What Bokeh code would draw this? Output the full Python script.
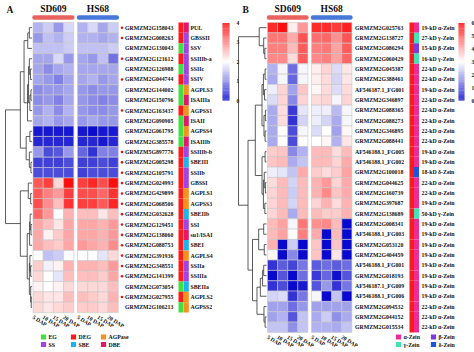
import numpy as np
from bokeh.plotting import figure
from bokeh.models import Range1d, ColumnDataSource, LinearColorMapper
from bokeh.transform import transform
from bokeh.core.properties import value
from bokeh.embed import file_html
from bokeh.resources import INLINE

# ---------------- data ----------------
groups = ["SD609", "HS68"]
stages = ["5 DAP", "10 DAP", "15 DAP", "20 DAP"]

genes_a = ["GRMZM2G158043", "GRMZM2G008263", "GRMZM2G130043", "GRMZM2G121612", "GRMZM2G126988",
           "GRMZM2G044744", "GRMZM2G144002", "GRMZM2G150796", "GRMZM2G163437", "GRMZM2G090905",
           "GRMZM2G061795", "GRMZM2G385578", "GRMZM5G897776", "GRMZM2G005298", "GRMZM2G105791",
           "GRMZM2G024993", "GRMZM2G429899", "GRMZM2G068506", "GRMZM2G032628", "GRMZM2G129451",
           "GRMZM2G138060", "GRMZM2G088753", "GRMZM2G391936", "GRMZM2G348551", "GRMZM2G141399",
           "GRMZM2G073054", "GRMZM2G027955", "GRMZM2G106213"]
names_a = ["PUL", "GBSSII", "SSV", "SSIIIb-a", "SSIIc", "SSIV", "AGPLS3", "ISAIIIa", "AGPSS1", "ISAII",
           "AGPSS4", "ISAIIIb", "SSIIIb-b", "SBEIII", "SSIIb", "GBSSI", "AGPLS1", "AGPSS3", "SBEIIb", "SSI",
           "su1/ISAI", "SBEI", "AGPLS4", "SSIIa", "SSIIIa", "SBEIIa", "AGPLS2", "AGPSS2"]
type_a = ["DEG", "DEG", "EG", "DEG", "EG", "DEG", "EG", "EG", "DEG", "EG",
          "EG", "EG", "DEG", "DEG", "DEG", "DEG", "DEG", "DEG", "DEG", "DEG",
          "DEG", "DEG", "DEG", "DEG", "DEG", "EG", "DEG", "EG"]
class_a = ["DBE", "SS", "SS", "SS", "SS", "SS", "AGPase", "DBE", "AGPase", "DBE",
           "AGPase", "DBE", "SS", "SBE", "SS", "SS", "AGPase", "AGPase", "SBE", "SS",
           "DBE", "SBE", "AGPase", "SS", "SS", "SBE", "AGPase", "AGPase"]
vals_a = [
    [1.4, 1.6, 1.2, 1.7, 1.4, 1.7, 1.3, 1.6],
    [1.2, 1.5, 1.4, 1.6, 1.4, 1.4, 1.3, 1.4],
    [1.5, 1.5, 1.5, 1.6, 1.5, 1.5, 1.5, 1.6],
    [1.3, 1.3, 1.7, 1.2, 1.3, 1.2, 1.5, 0.9],
    [1.3, 1.1, 1.3, 1.4, 1.3, 1.3, 1.3, 1.3],
    [1.3, 1.2, 1.0, 1.3, 1.3, 1.4, 1.2, 1.3],
    [1.1, 1.2, 1.2, 1.3, 1.2, 1.1, 1.2, 1.2],
    [1.1, 1.2, 1.0, 1.3, 1.2, 1.1, 1.0, 1.1],
    [1.2, 1.4, 1.1, 1.4, 1.2, 1.1, 1.1, 1.2],
    [1.3, 1.4, 1.2, 1.3, 1.2, 1.3, 1.2, 1.2],
    [0.2, 0.2, 0.2, 0.2, 0.2, 0.1, 0.2, 0.2],
    [0.3, 0.3, 0.3, 0.3, 0.3, 0.3, 0.2, 0.3],
    [1.2, 0.6, 0.7, 1.2, 0.8, 0.4, 1.0, 1.0],
    [0.5, 0.5, 0.5, 0.6, 0.5, 0.5, 0.6, 0.5],
    [0.6, 0.6, 0.6, 0.6, 0.5, 0.6, 0.6, 0.6],
    [3.3, 3.5, 2.3, 3.9, 3.5, 3.7, 3.4, 3.9],
    [3.3, 3.0, 2.8, 3.5, 3.4, 3.4, 3.2, 3.6],
    [3.4, 2.9, 2.5, 3.6, 3.5, 3.5, 3.3, 3.7],
    [3.2, 2.8, 2.0, 2.6, 2.5, 2.5, 2.2, 2.5],
    [2.7, 2.5, 2.2, 2.7, 2.7, 2.7, 2.6, 2.8],
    [2.7, 2.1, 2.4, 2.7, 2.7, 2.7, 2.6, 2.8],
    [2.7, 2.5, 2.4, 2.7, 2.8, 2.7, 2.6, 2.9],
    [2.0, 1.5, 1.6, 2.0, 2.0, 2.0, 1.8, 2.3],
    [2.4, 1.9, 2.1, 2.6, 2.6, 2.6, 2.5, 2.8],
    [2.3, 2.0, 1.8, 2.5, 2.5, 2.5, 2.4, 2.7],
    [2.1, 2.0, 2.1, 2.3, 2.3, 2.3, 2.3, 2.5],
    [2.3, 2.2, 2.2, 2.5, 2.5, 2.4, 2.3, 2.6],
    [2.3, 2.2, 2.3, 2.4, 2.4, 2.4, 2.3, 2.5],
]
# nested clustering tree: [left, right, height]
tree_a = [
    [[[[0, 1, 0.10], 2, 0.16],
      [[[3, [4, 5, 0.06], 0.10], [[6, 7, 0.04], 8, 0.08], 0.13], 9, 0.17], 0.30],
     [[10, 11, 0.08], [12, [13, 14, 0.04], 0.10], 0.22], 0.44],
    [[15, [16, 17, 0.05], 0.14],
     [[[18, [19, 20, 0.04], 0.07], 21, 0.09],
      [[22, [23, 24, 0.05], 0.08], [25, [26, 27, 0.03], 0.05], 0.10], 0.18], 0.44],
    1.0]

genes_b = ["GRMZM2G025763", "GRMZM2G138727", "GRMZM2G086294", "GRMZM2G060429", "GRMZM2G045387",
           "GRMZM2G388461", "AF546187.1_FG001", "GRMZM2G346897", "GRMZM2G088365", "GRMZM2G088273",
           "GRMZM2G346895", "GRMZM2G088441", "AF546188.1_FG005", "AF546188.1_FG002", "GRMZM2G100018",
           "GRMZM2G044625", "GRMZM2G160739", "GRMZM2G397687", "GRMZM2G138689", "GRMZM2G008341",
           "AF546188.1_FG003", "GRMZM2G053120", "GRMZM2G404459", "AF546188.1_FG001", "GRMZM2G018193",
           "AF546187.1_FG009", "AF546188.1_FG006", "GRMZM2G094532", "GRMZM2G044152", "GRMZM2G015534"]
names_b = ["19-kD α-Zein", "27-kD γ-Zein", "15-kD β-Zein", "16-kD γ-Zein", "22-kD α-Zein",
           "22-kD α-Zein", "19-kD α-Zein", "22-kD α-Zein", "22-kD α-Zein", "22-kD α-Zein",
           "22-kD α-Zein", "22-kD α-Zein", "19-kD α-Zein", "19-kD α-Zein", "18-kD δ-Zein",
           "22-kD α-Zein", "22-kD α-Zein", "19-kD α-Zein", "50-kD γ-Zein", "19-kD α-Zein",
           "19-kD α-Zein", "19-kD α-Zein", "19-kD α-Zein", "19-kD α-Zein", "19-kD α-Zein",
           "19-kD α-Zein", "19-kD α-Zein", "22-kD α-Zein", "22-kD α-Zein", "22-kD α-Zein"]
class_b = ["α-Zein", "γ-Zein", "β-Zein", "γ-Zein", "α-Zein", "α-Zein", "α-Zein", "α-Zein", "α-Zein", "α-Zein",
           "α-Zein", "α-Zein", "α-Zein", "α-Zein", "δ-Zein", "α-Zein", "α-Zein", "α-Zein", "γ-Zein", "α-Zein",
           "α-Zein", "α-Zein", "α-Zein", "α-Zein", "α-Zein", "α-Zein", "α-Zein", "α-Zein", "α-Zein", "α-Zein"]
type_b = ["DEG"] * 30
vals_b = [
    [5.5, 5.8, 3.2, 4.2, 5.5, 5.5, 5.3, 5.6],
    [4.6, 4.6, 4.0, 5.0, 4.7, 4.8, 4.3, 5.0],
    [4.5, 4.5, 3.8, 4.9, 4.5, 4.6, 4.1, 4.9],
    [4.4, 4.4, 3.4, 4.9, 4.4, 4.5, 4.1, 4.8],
    [2.1, 2.9, 1.3, 2.9, 3.2, 3.5, 2.6, 3.3],
    [2.0, 2.9, 1.2, 2.9, 3.2, 3.4, 2.5, 3.3],
    [2.8, 3.5, 1.9, 3.7, 3.1, 3.4, 2.6, 3.4],
    [2.6, 3.5, 1.6, 3.5, 3.4, 3.5, 2.9, 3.5],
    [2.0, 3.4, 0.7, 2.7, 2.8, 2.8, 2.2, 2.9],
    [2.0, 3.4, 0.6, 2.5, 2.8, 2.5, 2.0, 2.9],
    [2.0, 3.0, 0.9, 2.9, 2.6, 3.0, 1.9, 3.1],
    [2.0, 3.0, 0.9, 3.0, 3.0, 3.1, 2.1, 3.3],
    [3.6, 3.7, 1.6, 2.1, 3.8, 3.8, 3.4, 3.8],
    [3.7, 3.8, 2.0, 2.3, 3.8, 3.8, 3.5, 4.0],
    [2.8, 2.7, 2.3, 4.0, 3.6, 3.4, 3.6, 4.1],
    [3.4, 3.8, 2.5, 3.8, 3.9, 4.2, 3.5, 4.0],
    [3.5, 3.8, 2.4, 3.8, 3.9, 4.4, 3.7, 4.0],
    [3.5, 3.8, 2.5, 3.8, 3.5, 3.9, 3.4, 3.9],
    [3.5, 3.8, 2.0, 3.8, 3.8, 3.6, 3.6, 3.9],
    [3.8, 4.1, 2.9, 4.6, 4.3, 4.4, 3.8, 0.1],
    [3.8, 4.1, 3.0, 4.5, 4.0, 0.1, 3.8, 0.1],
    [3.9, 0.1, 2.4, 0.1, 3.7, 0.1, 3.7, 0.1],
    [3.1, 0.1, 1.6, 0.1, 3.7, 0.1, 3.3, 0.1],
    [0.6, 1.1, 0.8, 1.4, 1.1, 1.3, 1.1, 1.3],
    [0.1, 1.0, 0.1, 1.3, 0.7, 1.2, 0.2, 1.0],
    [0.6, 0.9, 0.1, 0.3, 1.0, 1.8, 0.6, 1.4],
    [2.5, 2.6, 0.6, 1.4, 2.9, 0.1, 2.3, 0.1],
    [1.9, 1.9, 1.3, 1.8, 1.9, 1.9, 1.9, 1.9],
    [1.9, 2.1, 1.0, 2.3, 2.0, 2.4, 1.7, 2.0],
    [2.3, 2.3, 1.7, 2.3, 2.1, 2.1, 2.0, 2.3],
]
tree_b = [
    [0, [1, [2, 3, 0.06], 0.10], 0.26],
    [[[[[4, 5, 0.05], [6, 7, 0.07], 0.11], [[8, 9, 0.04], [10, 11, 0.05], 0.09], 0.16],
      [[12, 13, 0.05], [[14, [15, 16, 0.04], 0.08], [17, 18, 0.06], 0.11], 0.16], 0.40],
     [[[19, 20, 0.10], [21, 22, 0.08], 0.28],
      [[[[23, 24, 0.10], 25, 0.14], 26, 0.22], [27, [28, 29, 0.05], 0.09], 0.34], 0.50], 0.66],
    1.0]

ticks_a = [0, 1, 2, 3, 4]
ticks_b = [0, 1, 2, 3, 4, 5, 6]
legend_a = ["EG", "DEG", "AGPase", "SS", "SBE", "DBE"]
legend_b = ["α-Zein", "β-Zein", "γ-Zein", "δ-Zein"]

# ---------------- styles ----------------
ann_colors = {"EG": "#3fe03f", "DEG": "#ff1a1a", "AGPase": "#f5911e", "SS": "#a243e3",
              "SBE": "#1cb4ea", "DBE": "#e3186b",
              "α-Zein": "#ee2c96", "β-Zein": "#7a3ce0", "γ-Zein": "#3de6b2", "δ-Zein": "#1d55e0"}
FONT = value("Liberation Serif")
TXT = "#111111"


def make_palette(lo, mid, hi, n=256):
    def h2r(h):
        return [int(h[i:i + 2], 16) for i in (1, 3, 5)]
    a, b, c = h2r(lo), h2r(mid), h2r(hi)
    out = []
    for i in range(n):
        t = i / (n - 1)
        if t < 0.5:
            s, p0, p1 = t / 0.5, a, b
        else:
            s, p0, p1 = (t - 0.5) / 0.5, b, c
        out.append("#%02x%02x%02x" % tuple(int(round(p0[k] + (p1[k] - p0[k]) * s)) for k in range(3)))
    return out


PAL = make_palette("#0000cc", "#ffffff", "#ff0000")

p = figure(width=474, height=352, output_backend="svg", toolbar_location=None,
           x_range=Range1d(0, 474), y_range=Range1d(352, 0), min_border=0)
p.min_border_left = p.min_border_right = p.min_border_top = p.min_border_bottom = 0
p.axis.visible = False
p.grid.visible = False
p.outline_line_color = None
p.background_fill_color = "white"
p.border_fill_color = "white"


def txt(x, y, t, size, align="left", base="middle", angle=0.0, bold=True, color=TXT):
    p.text(x=x, y=y, text=t, text_font=FONT, text_font_size=size,
           text_font_style="bold" if bold else "normal", text_align=align,
           text_baseline=base, angle=angle, text_color=color)


def panel(vals, genes, names, types, classes, tree, vmax, ticks, L):
    x0, cw, gap, y0, rh = L["x0"], L["cw"], L["gap"], L["y0"], L["rh"]
    nrow = len(vals)

    def colx(c):
        return x0 + c * cw + (gap if c >= 4 else 0)

    # heatmap cells
    d = dict(left=[], right=[], top=[], bottom=[], v=[])
    for r, row in enumerate(vals):
        for c, v in enumerate(row):
            d["left"].append(colx(c)); d["right"].append(colx(c) + cw)
            d["top"].append(y0 + r * rh); d["bottom"].append(y0 + (r + 1) * rh)
            d["v"].append(v)
    mapper = LinearColorMapper(palette=PAL, low=0, high=vmax)
    p.quad(left="left", right="right", top="top", bottom="bottom", source=ColumnDataSource(d),
           fill_color=transform("v", mapper), line_color="#c8c8c8", line_width=0.6)

    # group header bars and titles
    for g, name in enumerate(groups):
        xa = colx(4 * g) + 1.5
        xb = colx(4 * g + 3) + cw - 1.5
        p.segment(x0=[xa], y0=[L["bar_y"]], x1=[xb], y1=[L["bar_y"]],
                  line_color=["#e8625f", "#4677d9"][g], line_width=4.5, line_cap="round")
        txt([(xa + xb) / 2], [L["title_y"]], [name], "9.5px", align="center")

    # column labels
    lx, ly = [], []
    for c in range(8):
        lx.append(colx(c) + 1.5)
        ly.append(y0 + nrow * rh + 1.5)
    txt(lx, ly, stages * 2, "5.6px", align="left", base="top", angle=-0.55)

    # gene labels
    ys = [y0 + (r + 0.5) * rh for r in range(nrow)]
    txt([L["gene_x"]] * nrow, ys, genes, "5.8px")
    if L["dots"]:
        dy = [y for y, t in zip(ys, types) if t == "DEG"]
        p.scatter(x=[L["gene_x"] - 3] * len(dy), y=dy, size=2.6, color="#ee1111",
                  line_color=None, marker="circle")

    # annotation columns
    a1, a2 = L["ann"]
    p.quad(left=[a1[0]] * nrow, right=[a1[1]] * nrow, top=[y0 + r * rh for r in range(nrow)],
           bottom=[y0 + (r + 1) * rh for r in range(nrow)], fill_color=[ann_colors[t] for t in types],
           line_color=None)
    p.quad(left=[a2[0]] * nrow, right=[a2[1]] * nrow, top=[y0 + r * rh for r in range(nrow)],
           bottom=[y0 + (r + 1) * rh for r in range(nrow)], fill_color=[ann_colors[t] for t in classes],
           line_color=None)
    txt([L["name_x"]] * nrow, ys, names, "5.8px")

    # color bar
    cb_l, cb_r, cb_t, cb_b = L["cbar"]
    n = 120
    edges = np.linspace(0, vmax, n + 1)
    yy = lambda v: cb_b - (cb_b - cb_t) * v / vmax
    p.quad(left=[cb_l] * n, right=[cb_r] * n, top=[yy(e) for e in edges[1:]],
           bottom=[yy(e) for e in edges[:-1]],
           fill_color=[PAL[min(255, int((e + vmax / n / 2) / vmax * 256))] for e in edges[:-1]],
           line_color=None)
    txt([cb_r + 7] * len(ticks), [yy(t) for t in ticks], [str(t) for t in ticks], "5.5px")

    # dendrogram
    xl, xr = L["dendro"]
    seg = dict(x0=[], y0=[], x1=[], y1=[])

    def X(h):
        return xl - h * (xl - xr)

    def walk(node):
        if isinstance(node, int):
            return y0 + (node + 0.5) * rh, 0.0
        left, right, h = node
        yl, hl = walk(left)
        yr, hr = walk(right)
        for a, b, c, dd in ((X(hl), yl, X(h), yl), (X(hr), yr, X(h), yr), (X(h), yl, X(h), yr)):
            seg["x0"].append(a); seg["y0"].append(b); seg["x1"].append(c); seg["y1"].append(dd)
        return (yl + yr) / 2, h

    walk(tree)
    p.segment(source=ColumnDataSource(seg), x0="x0", y0="y0", x1="x1", y1="y1",
              line_color="#333333", line_width=0.8)

    # panel letter
    txt([L["letter_x"]], [L["title_y"] + 1], [L["letter"]], "9.5px")

    # legend
    lgx, lgy, ncol, dx, dyy = L["legend"]
    items = L["legend_items"]
    sx, sy = [], []
    for i, it in enumerate(items):
        sx.append(lgx + (i % ncol) * dx)
        sy.append(lgy + (i // ncol) * dyy)
    p.quad(left=[x - 2.6 for x in sx], right=[x + 2.6 for x in sx], top=[y - 2.6 for y in sy],
           bottom=[y + 2.6 for y in sy], fill_color=[ann_colors[t] for t in items], line_color=None)
    txt([x + 5 for x in sx], sy, items, "5.8px")


LA = dict(x0=32.5, cw=10.2, gap=3.7, y0=22, rh=10.36, bar_y=17, title_y=8, gene_x=124.5, dots=True,
          ann=((178, 183), (183.3, 188.3)), name_x=190, cbar=(222, 229, 22.5, 100),
          dendro=(31.5, 5), letter="A", letter_x=6, legend=(43, 336.5, 3, 30, 7.5), legend_items=legend_a)
LB = dict(x0=267, cw=10.1, gap=3.6, y0=22, rh=10.33, bar_y=17, title_y=8, gene_x=354.5, dots=False,
          ann=((409, 413.5), (413.5, 418.5)), name_x=421, cbar=(458, 464, 22.5, 100),
          dendro=(266, 238), letter="B", letter_x=242, legend=(398, 336.5, 2, 35, 7.5), legend_items=legend_b)

panel(vals_a, genes_a, names_a, type_a, class_a, tree_a, 4, ticks_a, LA)
panel(vals_b, genes_b, names_b, type_b, class_b, tree_b, 6, ticks_b, LB)

open("out.html", "w").write(file_html(p, INLINE))
